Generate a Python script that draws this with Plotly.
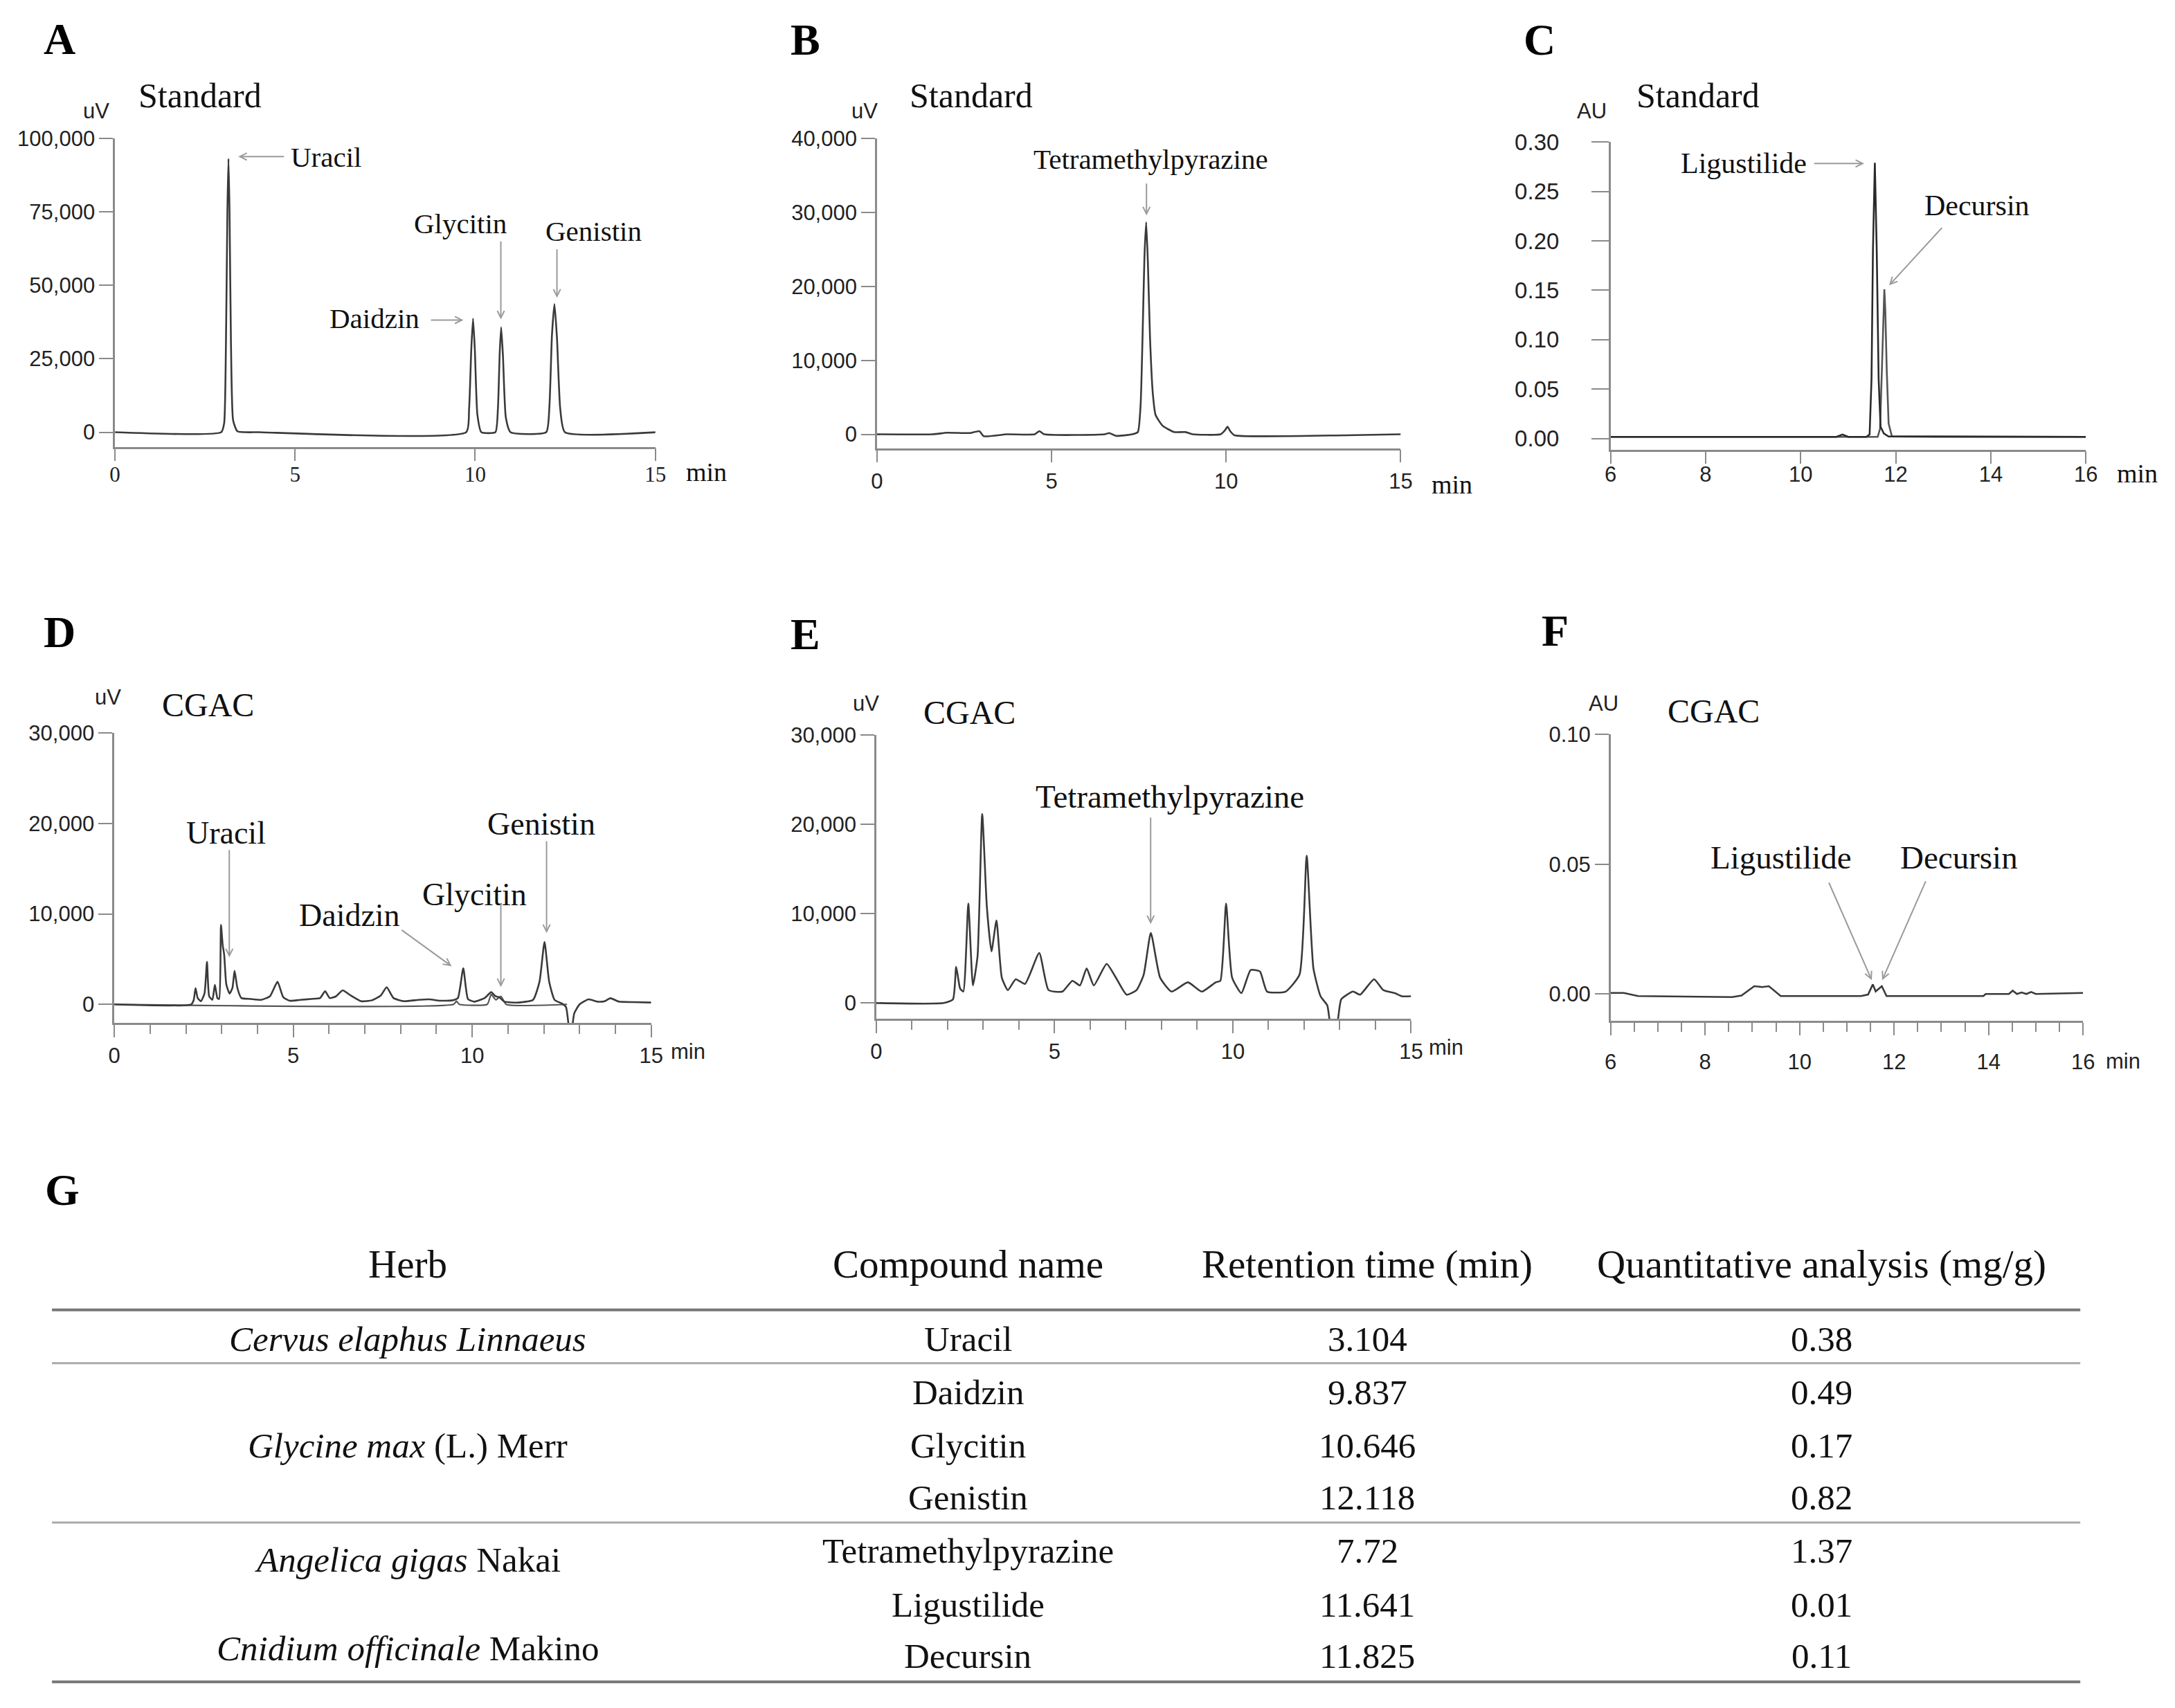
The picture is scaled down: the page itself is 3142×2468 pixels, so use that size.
import plotly.graph_objects as go

W, H = 3142, 2468

# ---------------- chromatogram data (time in min, signal) ----------------
A_trace = [(0, 0), (2.95, 0), (3.03, 3000), (3.08, 30000), (3.12, 75000), (3.15, 93200),
           (3.18, 75000), (3.22, 30000), (3.28, 4000), (3.4, 300), (4.0, 0),
           (9.75, 0), (9.83, 8000), (9.89, 28000), (9.94, 38700), (9.99, 28000), (10.06, 6000), (10.17, 0),
           (10.56, 0), (10.63, 8000), (10.68, 27000), (10.72, 35750), (10.77, 26000), (10.85, 5000), (10.98, 0),
           (11.97, 0), (12.06, 9000), (12.13, 33000), (12.2, 43660), (12.27, 32000), (12.36, 8000), (12.49, 0),
           (15.05, 0)]

B_trace = [(0, 0), (1.6, 0), (2.0, 215), (2.66, 170), (2.93, 430), (3.06, -258), (3.72, 0),
           (4.52, 0), (4.65, 430), (4.79, 0), (6.52, 0), (6.65, 170), (6.85, -215), (7.31, 0),
           (7.47, 300), (7.55, 4000), (7.61, 14000), (7.66, 24000), (7.71, 28690), (7.76, 23000),
           (7.82, 13000), (7.9, 5500), (7.98, 2600), (8.18, 1160), (8.51, 300), (8.84, 300),
           (9.04, 0), (9.84, 0), (9.96, 500), (10.04, 1030), (10.12, 400), (10.24, -130),
           (13.43, -130), (15.0, 0)]

C_ligustilide = [(6, 0.0016), (10.75, 0.0016), (10.88, 0.004), (11.0, 0.0016), (11.38, 0.0016),
                 (11.45, 0.004), (11.49, 0.06), (11.52, 0.19), (11.56, 0.279), (11.6, 0.19),
                 (11.64, 0.06), (11.68, 0.012), (11.75, 0.005), (11.85, 0.002), (16, 0.0016)]
C_decursin = [(6, 0.0016), (11.62, 0.0016), (11.67, 0.01), (11.71, 0.07), (11.74, 0.13),
              (11.76, 0.151), (11.78, 0.13), (11.81, 0.07), (11.85, 0.015), (11.92, 0.002), (16, 0.0016)]

D_trace = [(0, 0), (2.15, 0), (2.22, 500), (2.27, 1800), (2.33, 700), (2.42, 350), (2.52, 1200),
           (2.59, 4700), (2.65, 900), (2.74, 500), (2.81, 2150), (2.88, 700), (2.93, 600),
           (2.98, 8800), (3.03, 6500), (3.07, 5500), (3.13, 2200), (3.22, 1200), (3.3, 1800),
           (3.36, 3700), (3.44, 1800), (3.55, 700), (3.8, 600), (4.1, 500), (4.35, 900),
           (4.56, 2500), (4.72, 800), (4.9, 400), (5.2, 500), (5.5, 600), (5.75, 700),
           (5.89, 1450), (6.02, 700), (6.2, 900), (6.38, 1550), (6.6, 1000), (6.9, 350),
           (7.2, 450), (7.45, 1000), (7.61, 1900), (7.8, 700), (8.1, 350), (8.5, 500),
           (8.8, 550), (9.1, 400), (9.45, 450), (9.6, 700), (9.75, 4000), (9.88, 600),
           (10.05, 300), (10.35, 700), (10.53, 1350), (10.65, 900), (10.75, 800), (10.9, 300),
           (11.3, 200), (11.7, 500), (11.88, 2500), (12.02, 6900), (12.15, 2500), (12.3, 500),
           (12.5, 100), (12.62, -300), (12.7, -2500), (12.76, -3500), (12.85, -1000), (13.0, 0),
           (13.25, 550), (13.5, 300), (13.7, 350), (13.86, 680), (14.1, 300), (14.5, 250), (15.0, 200)]
D_overlay = [(0, 0), (9.48, 0), (9.56, 350), (9.64, 0), (10.42, 0), (10.53, 1100), (10.66, 500),
             (10.8, 900), (10.95, 0), (12.65, 0)]

E_trace = [(0, 0), (1.89, 0), (2.15, 415), (2.24, 4050), (2.35, 1630), (2.44, 1280), (2.58, 11140),
           (2.71, 1970), (2.84, 5260), (2.97, 21180), (3.10, 10800), (3.23, 5780), (3.37, 9240),
           (3.52, 2840), (3.69, 1450), (3.91, 2660), (4.17, 2145), (4.57, 5600), (4.83, 1450),
           (5.22, 1280), (5.50, 2490), (5.71, 1970), (5.90, 3880), (6.10, 1970), (6.46, 4390),
           (6.72, 2840), (7.02, 934), (7.30, 1450), (7.50, 3180), (7.70, 7850), (7.96, 2840),
           (8.28, 1280), (8.74, 2320), (9.13, 1280), (9.52, 2320), (9.65, 2490), (9.81, 11140),
           (9.98, 2840), (10.24, 1107), (10.50, 3700), (10.76, 3530), (10.96, 1280), (11.48, 1280),
           (11.87, 3180), (12.07, 16500), (12.26, 3880), (12.46, 760), (12.65, -280), (12.75, -2500),
           (12.91, -2500), (13.04, 415), (13.37, 1280), (13.57, 934), (13.96, 2660), (14.22, 1450),
           (14.54, 1107), (14.74, 760), (15.0, 760)]

F_trace = [(6.0, 0.0004), (6.28, 0.0004), (6.58, -0.0008), (8.23, -0.0012), (8.57, -0.0012),
           (8.77, -0.0006), (9.04, 0.003), (9.21, 0.0027), (9.35, 0.003), (9.6, -0.0008),
           (11.3, -0.0008), (11.45, -0.0002), (11.55, 0.0037), (11.61, 0.001), (11.74, 0.003),
           (11.84, -0.0008), (13.89, -0.0008), (13.94, 0), (14.43, 0), (14.51, 0.0013), (14.6, 0),
           (14.7, 0.0006), (14.8, 0), (14.9, 0.0008), (15.0, 0), (16.0, 0.0004)]

# ---------------- table data ----------------
table_header = ["Herb", "Compound name", "Retention time (min)", "Quantitative analysis (mg/g)"]
herbs = ["<i>Cervus elaphus Linnaeus</i>", "<i>Glycine max</i> (L.) Merr",
         "<i>Angelica gigas</i> Nakai", "<i>Cnidium officinale</i> Makino"]
compounds = ["Uracil", "Daidzin", "Glycitin", "Genistin", "Tetramethylpyrazine", "Ligustilide", "Decursin"]
retention = ["3.104", "9.837", "10.646", "12.118", "7.72", "11.641", "11.825"]
quantity = ["0.38", "0.49", "0.17", "0.82", "1.37", "0.01", "0.11"]

# placement helpers: target pixel positions -> paper fractions (with capture compensation)
S, OX, OY = 0.991, 7.0, 16.0


def px(x):
    return ((x - OX) / S) / W


def py(y):
    return 1 - ((y - OY) / S) / H


SERIF = "Liberation Serif"
SANS = "Liberation Sans"
LINE = "#3a3a3a"
AXC = "#8a8a8a"

fig = go.Figure()

panels = [
    dict(xd=(164, 944), yd=(643, 198), xr=[0, 15], yr=[-4960, 100050],
         xt=[0, 5, 10, 15], yt=[0, 25000, 50000, 75000, 100000], fmt=",d", xf=SERIF, minor=None,
         xso=-8, yso=0, yfs=31, ytl=20),
    dict(xd=(1264, 2020), yd=(645, 198), xr=[0, 15], yr=[-1875, 40020],
         xt=[0, 5, 10, 15], yt=[0, 10000, 20000, 30000, 40000], fmt=",d", xf=SANS, minor=None,
         xso=0, yso=0, yfs=31, ytl=20),
    dict(xd=(2323, 3009), yd=(647, 203), xr=[6, 16], yr=[-0.0112, 0.3001],
         xt=[6, 8, 10, 12, 14, 16], yt=[0, 0.05, 0.10, 0.15, 0.20, 0.25, 0.30], fmt=".2f", xf=SANS, minor=None,
         xso=-12, yso=40, yfs=33, ytl=25),
    dict(xd=(163, 938), yd=(1475, 1056), xr=[0, 15], yr=[-2070, 30015],
         xt=[0, 5, 10, 15], yt=[0, 10000, 20000, 30000], fmt=",d", xf=SANS, minor=1,
         xso=0, yso=0, yfs=31, ytl=20),
    dict(xd=(1263, 2035), yd=(1469, 1059), xr=[0, 15], yr=[-1780, 30015],
         xt=[0, 5, 10, 15], yt=[0, 10000, 20000, 30000], fmt=",d", xf=SANS, minor=1,
         xso=0, yso=0, yfs=31, ytl=20),
    dict(xd=(2323, 3005), yd=(1472, 1058), xr=[6, 16], yr=[-0.0104, 0.10005],
         xt=[6, 8, 10, 12, 14, 16], yt=[0, 0.05, 0.10], fmt=".2f", xf=SANS, minor=0.5,
         xso=12, yso=0, yfs=31, ytl=20),
]

layout_axes = {}
for i, p in enumerate(panels):
    n = "" if i == 0 else str(i + 1)
    xa = dict(domain=[px(p["xd"][0]), px(p["xd"][1])], range=p["xr"], anchor="y" + n,
              showline=True, linecolor=AXC, linewidth=2.5, ticks="outside", ticklen=18,
              tickwidth=2, tickcolor=AXC, showgrid=False, zeroline=False,
              ticklabelstandoff=p["xso"],
              tickvals=p["xt"], tickfont=dict(family=p["xf"], size=31, color="#222"))
    if p["minor"]:
        xa["minor"] = dict(dtick=p["minor"], ticks="outside", ticklen=13, tickwidth=2,
                           tickcolor=AXC, showgrid=False, tick0=p["xr"][0])
    ya = dict(domain=[py(p["yd"][0]), py(p["yd"][1])], range=p["yr"], anchor="x" + n,
              showline=True, linecolor=AXC, linewidth=2.5, ticks="outside", ticklen=p["ytl"],
              tickwidth=2, tickcolor=AXC, showgrid=False, zeroline=False,
              ticklabelstandoff=p["yso"],
              tickvals=p["yt"], tickformat=p["fmt"],
              tickfont=dict(family=SANS, size=p["yfs"], color="#222"))
    layout_axes["xaxis" + n] = xa
    layout_axes["yaxis" + n] = ya


def add_series(points, n, color=LINE, width=2.6, shape="spline"):
    xs = [t for t, _ in points]
    ys = [v for _, v in points]
    fig.add_trace(go.Scatter(x=xs, y=ys, mode="lines",
                             line=dict(color=color, width=width, shape=shape, smoothing=0.5),
                             xaxis="x" + n, yaxis="y" + n, showlegend=False, hoverinfo="skip"))


add_series(A_trace, "")
add_series(B_trace, "2")
add_series(C_decursin, "3", color="#555", shape="linear")
add_series(C_ligustilide, "3", color="#2a2a2a", shape="linear")
add_series(D_overlay, "4", color="#555", width=2.2)
add_series(D_trace, "4")
add_series(E_trace, "5")
add_series(F_trace, "6", shape="linear")

ann = []


def text(x, y, s, size, family=SERIF, color="#111", xanchor="center", bold=False):
    if bold:
        s = "<b>" + s + "</b>"
    ann.append(dict(x=px(x), y=py(y), xref="paper", yref="paper", text=s, showarrow=False,
                    xanchor=xanchor, yanchor="middle", font=dict(family=family, size=size, color=color)))


def arrow(tx, ty, hx, hy):
    ann.append(dict(x=px(hx), y=py(hy), xref="paper", yref="paper", text="", showarrow=True,
                    ax=(tx - hx) / S, ay=(ty - hy) / S, arrowhead=5, arrowsize=1.0, arrowwidth=2,
                    arrowcolor="#9a9a9a", standoff=0, startstandoff=0))


# panel letters
for lab, x, y in [("A", 84, 54), ("B", 1161, 55), ("C", 2220, 55),
                  ("D", 84, 911), ("E", 1161, 914), ("F", 2243, 909), ("G", 88, 1716)]:
    text(x, y, lab, 64, bold=True, color="#000")

# panel subtitles and units
text(287, 136, "Standard", 50)
text(1400, 136, "Standard", 50)
text(2449, 136, "Standard", 50)
text(298, 1016, "CGAC", 48)
text(1397, 1027, "CGAC", 48)
text(2472, 1025, "CGAC", 48)
for ux, uy, u in [(137, 158, "uV"), (1246, 158, "uV"), (2296, 158, "AU"),
                  (154, 1005, "uV"), (1248, 1014, "uV"), (2313, 1014, "AU")]:
    text(ux, uy, u, 31, family=SANS, color="#222")

# min labels
text(986, 679, "min", 38, xanchor="left")
text(2062, 697, "min", 38, xanchor="left")
text(3052, 681, "min", 38, xanchor="left")
text(964, 1516, "min", 31, family=SANS, color="#222", xanchor="left")
text(2058, 1510, "min", 31, family=SANS, color="#222", xanchor="left")
text(3036, 1530, "min", 31, family=SANS, color="#222", xanchor="left")

# compound labels and arrows
text(469, 225, "Uracil", 41); arrow(409, 224, 342, 224)
text(539, 458, "Daidzin", 41); arrow(619, 460, 667, 460)
text(663, 321, "Glycitin", 41); arrow(721, 346, 721, 459)
text(855, 332, "Genistin", 41); arrow(802, 357, 802, 428)
text(1659, 228, "Tetramethylpyrazine", 41); arrow(1653, 262, 1653, 309)
text(2515, 234, "Ligustilide", 42); arrow(2616, 234, 2689, 234)
text(2852, 295, "Decursin", 42); arrow(2802, 326, 2725, 410)
text(324, 1200, "Uracil", 46); arrow(329, 1225, 329, 1380)
text(503, 1319, "Daidzin", 46); arrow(577, 1340, 650, 1393)
text(683, 1289, "Glycitin", 46); arrow(721, 1302, 721, 1423)
text(779, 1187, "Genistin", 46); arrow(787, 1212, 787, 1345)
text(1687, 1148, "Tetramethylpyrazine", 47); arrow(1659, 1178, 1659, 1332)
text(2569, 1236, "Ligustilide", 47); arrow(2638, 1272, 2700, 1413)
text(2826, 1236, "Decursin", 47); arrow(2778, 1270, 2715, 1413)

# ---------------- table G ----------------
col_x = [587, 1395, 1972, 2628]
header_y = 1823
row_y = [1931, 2008, 2085, 2160, 2237, 2315, 2389]
herb_y = [1931, 2085, 2250, 2378]
for cx, h in zip(col_x, table_header):
    text(cx, header_y, h, 57)
for hy, h in zip(herb_y, herbs):
    text(col_x[0], hy, h, 51)
for ry, c, r, q in zip(row_y, compounds, retention, quantity):
    text(col_x[1], ry, c, 51)
    text(col_x[2], ry, r, 51)
    text(col_x[3], ry, q, 51)

shapes = []
for ly, w, c in [(1889, 4, "#777"), (1966, 3, "#aaa"), (2196, 3, "#aaa"), (2426, 4, "#777")]:
    shapes.append(dict(type="line", xref="paper", yref="paper", x0=px(73), x1=px(3001),
                       y0=py(ly), y1=py(ly), line=dict(color=c, width=w)))

fig.update_layout(width=W, height=H, autosize=False, margin=dict(l=0, r=0, t=0, b=0),
                  paper_bgcolor="white", plot_bgcolor="white", showlegend=False,
                  annotations=ann, shapes=shapes, **layout_axes)

fig.write_html("out.html", config={"displayModeBar": False},
               post_script="document.body.style.margin='0px';document.body.style.overflow='hidden';")
